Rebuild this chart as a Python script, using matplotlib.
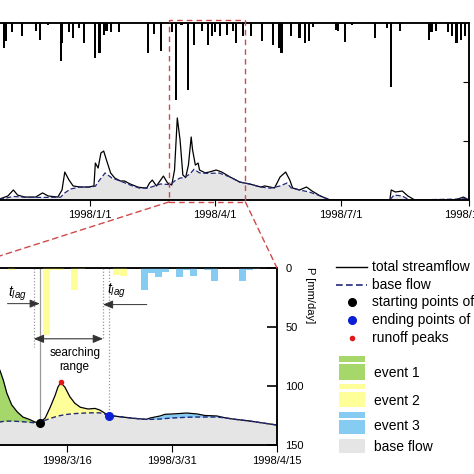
import numpy as np
import matplotlib
matplotlib.use("Agg")
import matplotlib.pyplot as plt
from matplotlib.patches import Rectangle, ConnectionPatch
from matplotlib.lines import Line2D

plt.rcParams['font.family'] = ['Liberation Sans', 'DejaVu Sans']
plt.rcParams['mathtext.fontset'] = 'custom'
plt.rcParams['mathtext.it'] = 'Liberation Sans:italic'
plt.rcParams['mathtext.rm'] = 'Liberation Sans'

# ---------------- whole year, days since 1997-10-01 ----------------
year_start = np.datetime64('1997-10-01')
flow_day = [0, 15, 27, 33, 37, 40, 45, 53, 58, 62, 69, 72, 74, 77, 80, 85, 91, 95, 96, 98,
            100, 102, 104, 107, 110, 114, 117, 121, 127, 133, 135, 137, 140, 143, 145, 148, 151, 153, 155, 157,
            159, 161, 163, 165, 166, 168, 170, 171, 175, 178, 183, 187, 193, 200, 207, 215, 218, 225, 229, 233,
            236, 238, 243, 248, 252, 258, 265, 308, 309, 312, 317, 321, 326, 355, 361, 365]
flow_total = [0.1, 0.2, 0.08, 0.34, 0.85, 0.42, 0.25, 0.25, 0.6, 0.34, 0.25, 0.85, 2.37, 1.7, 1.19, 1.1, 1.1, 1.19, 3.13, 2.71,
              3.98, 4.15, 3.39, 2.29, 1.86, 1.61, 1.61, 1.36, 1.08, 1.0, 1.44, 1.69, 1.19, 1.69, 2.03, 1.44, 1.27, 2.54, 6.95, 5.08,
              2.12, 1.9, 2.96, 5.34, 4.24, 2.96, 3.13, 2.54, 2.3, 2.37, 2.54, 2.37, 1.95, 1.52, 1.36, 1.1, 1.19, 1.02, 1.95, 2.37,
              1.69, 1.02, 0.85, 1.1, 0.76, 0.34, 0.0, 0.0, 0.85, 0.68, 0.76, 0.34, 0.0, 0.0, 0.25, 0.0]
base_day = [0, 27, 37, 48, 60, 71, 74, 78, 85, 92, 96, 99, 103, 108, 114, 121, 128, 135, 143, 150,
            153, 157, 160, 164, 167, 171, 178, 185, 193, 200, 207, 215, 222, 229, 234, 237, 243, 250, 258, 265,
            308, 311, 317, 322, 358, 361, 365]
base_flow = [0.1, 0.05, 0.3, 0.22, 0.22, 0.24, 0.6, 0.93, 1.1, 1.1, 1.17, 1.69, 2.29, 1.86, 1.61, 1.27, 1.0, 1.05, 1.36, 1.3,
             1.61, 1.86, 1.9, 2.2, 2.6, 2.3, 2.25, 2.29, 1.95, 1.52, 1.36, 1.1, 1.0, 1.19, 1.44, 1.02, 0.85, 0.68, 0.34, 0.0,
             0.0, 0.42, 0.34, 0.0, 0.08, 0.17, 0.0]
rain_day = [30, 32, 36, 43, 53, 56, 62, 71, 72, 77, 80, 84, 88, 96, 99, 102, 104, 107, 113, 134,
            138, 143, 151, 154, 158, 163, 167, 173, 177, 180, 182, 186, 191, 195, 197, 202, 208, 216, 224, 228,
            230, 237, 243, 247, 250, 253, 269, 271, 276, 281, 297, 306, 309, 315, 336, 338, 341, 350, 353, 356,
            359, 362]
rain_mm = [21, 15, 8, 11, 7, 14, 2, 32, 17, 8, 13, 4, 17, 30, 25, 10, 7, 8, 8, 25,
           9, 24, 8, 65, 2, 57, 19, 7, 19, 11, 8, 11, 10, 7, 17, 11, 11, 15, 19, 21,
           25, 11, 13, 17, 15, 3, 6, 7, 16, 2, 13, 4, 54, 7, 14, 8, 7, 8, 11, 17,
           14, 11]
top_tick_dates = ['1998-01-01', '1998-04-01', '1998-07-01', '1998-10-01']
top_tick_labels = ['1998/1/1', '1998/4/1', '1998/7/1', '1998/10/1']
zoom_box = ['1998-02-27', '1998-04-23']

# ---------------- zoom window, days since 1998-03-01 ----------------
zoom_start = np.datetime64('1998-03-01')
z_day = [0, 1.5, 3, 4, 4.6, 5.4, 5.9, 6.4, 7.1, 7.9, 8.7, 9.7, 10.4, 11.1, 11.9, 12.6, 13.3, 13.7, 14.1, 14.7,
         15.4, 16.1, 16.9, 18.0, 19.0, 19.7, 20.4, 21.0, 22.5, 24.4, 26.3, 26.9, 28.3, 29.0, 30.1, 32.1, 33.6, 34.7, 36.4, 37.6,
         38.7, 41.1, 45]
z_total = [1.3, 1.6, 3.0, 6.5, 7.0, 6.35, 5.5, 4.4, 3.4, 2.8, 2.37, 2.15, 1.95, 1.86, 2.3, 3.2, 4.2, 4.9, 5.3, 4.9,
           4.1, 3.55, 3.2, 3.05, 3.1, 2.96, 2.7, 2.5, 2.4, 2.27, 2.17, 2.29, 2.46, 2.6, 2.63, 2.71, 2.63, 2.5, 2.46, 2.3,
           2.2, 2.03, 1.69]
z_base = [1.3, 1.5, 1.65, 1.8, 1.85, 1.95, 2.0, 2.02, 2.03, 2.0, 1.97, 1.92, 1.88, 1.86, 2.1, 2.25, 2.38, 2.45, 2.5, 2.57,
          2.62, 2.66, 2.69, 2.72, 2.73, 2.72, 2.62, 2.5, 2.4, 2.27, 2.17, 2.17, 2.2, 2.24, 2.29, 2.35, 2.37, 2.37, 2.37, 2.3,
          2.2, 2.03, 1.69]
z_rain_day = [0, 3, 7, 12, 13, 14, 16, 17, 22, 23, 26, 27, 28, 29, 31, 32, 33, 35, 36, 40, 41, 42]
z_rain = [8, 65, 2, 57, 2, 2, 19, 1, 6, 7, 19, 4, 8, 3, 8, 2, 7, 2, 11, 11, 2, 1]
z_rain_event = [1, 1, 2, 2, 2, 2, 2, 2, 2, 2, 3, 3, 3, 3, 3, 3, 3, 3, 3, 3, 3, 3]
event_start = [0, 11.1, 26.3]
event_end = [11.1, 21.0, 37.6]
t_lag = 0.85
bot_tick_dates = ['1998-03-16', '1998-03-31', '1998-04-15']
bot_tick_labels = ['1998/3/16', '1998/3/31', '1998/4/15']

gray = '#e5e5e5'
navy = '#22287a'
red = '#cf4a4a'
ev_colors = {1: '#a6d76b', 2: '#ffff99', 3: '#86cbf2'}

W = 474.0
fig = plt.figure(figsize=(4.74, 4.74), dpi=100)
ax_top = fig.add_axes([-38 / W, 1 - 200 / W, 507 / W, 177 / W])
ax_bot = fig.add_axes([-38 / W, 1 - 445 / W, 315 / W, 177 / W])

# ---- top panel ----
ax_top.fill_between(base_day, 0, base_flow, color=gray, lw=0)
ax_top.plot(flow_day, flow_total, color='black', lw=0.9)
ax_top.plot(base_day, base_flow, color=navy, lw=0.9, dashes=(4, 2))
ax_top.set_xlim(0, 365)
ax_top.set_ylim(0, 15)
top_ticks = (np.array(top_tick_dates, dtype='datetime64[D]') - year_start).astype(int)
ax_top.set_xticks(top_ticks)
ax_top.set_xticklabels(top_tick_labels)
ax_top.tick_params(axis='x', direction='out', length=4, labelsize=8, pad=3)
ax_top.tick_params(axis='y', left=False, labelleft=False)

ax_top_p = ax_top.twinx()
ax_top_p.bar(rain_day, rain_mm, width=1.5, color='black', lw=0)
ax_top_p.set_ylim(150, 0)
ax_top_p.set_yticks([50, 100])
ax_top_p.tick_params(axis='y', direction='in', length=4, labelright=False)

box = (np.array(zoom_box, dtype='datetime64[D]') - year_start).astype(int)
rect = Rectangle((box[0], -0.011), box[1] - box[0], 1.028, transform=ax_top_p.get_xaxis_transform(),
                 fill=False, ec=red, lw=1, ls=(0, (4, 3)), clip_on=False, zorder=5)
ax_top_p.add_patch(rect)
for xa, xb in [(box[0], 0), (box[1], 1)]:
    con = ConnectionPatch(xyA=(xa, -0.011), coordsA=ax_top_p.get_xaxis_transform(),
                          xyB=(xb, 1), coordsB=ax_bot.transAxes,
                          color=red, lw=1, ls=(0, (4, 3)))
    fig.add_artist(con)

# ---- bottom panel ----
z_day = np.array(z_day)
z_total = np.array(z_total)
z_base = np.array(z_base)
ax_bot.fill_between(z_day, 0, z_base, color=gray, lw=0)
for k, (s, e) in enumerate(zip(event_start, event_end)):
    m = (z_day >= s) & (z_day <= e)
    ax_bot.fill_between(z_day, z_base, z_total, where=m, color=ev_colors[k + 1], lw=0)
ax_bot.plot(z_day, z_total, color='black', lw=0.9)
ax_bot.plot(z_day, z_base, color=navy, lw=1.0, dashes=(3.5, 2))
ax_bot.set_xlim(0, 45)
ax_bot.set_ylim(0, 15)

s2, e2 = event_start[1], event_end[1]
start_q = np.interp(s2, z_day, z_total)
end_q = np.interp(e2, z_day, z_total)
m2 = (z_day >= s2) & (z_day <= e2)
pk = np.argmax(np.where(m2, z_total, -1))
ax_bot.vlines(s2, start_q, 15, colors='#9a9a9a', lw=0.9)
ax_bot.vlines(e2, end_q, 15, colors='#9a9a9a', lw=0.9, linestyles=(0, (1, 1.5)))
ax_bot.plot(s2, start_q, 'o', color='black', ms=5.5, zorder=6)
ax_bot.plot(e2, end_q, 'o', color='#0a1fd6', ms=5.5, zorder=6)
ax_bot.plot(z_day[pk], z_total[pk], 'o', color='#e01818', ms=3, zorder=6)

bot_ticks = (np.array(bot_tick_dates, dtype='datetime64[D]') - zoom_start).astype(int)
ax_bot.set_xticks(bot_ticks)
ax_bot.set_xticklabels(bot_tick_labels)
ax_bot.tick_params(axis='x', direction='out', length=5, labelsize=8, pad=3)
ax_bot.tick_params(axis='y', left=False, labelleft=False)

ax_bot_p = ax_bot.twinx()
ax_bot_p.bar(z_rain_day, z_rain, width=1.0, lw=0,
             color=[ev_colors[k] for k in z_rain_event])
ax_bot_p.set_ylim(150, 0)
ax_bot_p.set_yticks([0, 50, 100, 150])
ax_bot_p.tick_params(axis='y', direction='in', length=7, width=1.2, labelsize=8, pad=6)
ax_bot_p.text(1.105, 0.847, 'P [mm/day]', transform=ax_bot_p.transAxes, rotation=270,
              ha='center', va='center', fontsize=8)

ax_bot_p.vlines(s2 - t_lag, 0, 67, colors='#9a9a9a', lw=0.9, linestyles=(0, (1, 1.5)))
ax_bot_p.vlines(e2 - t_lag, 0, 61, colors='#9a9a9a', lw=0.9, linestyles=(0, (1, 1.5)))
head = '-|>,head_length=0.6,head_width=0.25'
ax_bot_p.annotate('', xy=(s2, 30.2), xytext=(6.5, 30.2),
                  arrowprops=dict(arrowstyle=head, color='#333333', lw=0.7, mutation_scale=10,
                                  shrinkA=0, shrinkB=0))
ax_bot_p.annotate('', xy=(e2 - t_lag, 31), xytext=(26.4, 31),
                  arrowprops=dict(arrowstyle=head, color='#333333', lw=0.7, mutation_scale=10,
                                  shrinkA=0, shrinkB=0))
ax_bot_p.annotate('', xy=(e2 - t_lag, 60), xytext=(s2 - t_lag, 60),
                  arrowprops=dict(arrowstyle='<|-|>,head_length=0.6,head_width=0.25', color='#333333',
                                  lw=0.8, mutation_scale=10, shrinkA=0, shrinkB=0))
ax_bot_p.text(7.86, 22, r'$t_{lag}$', ha='center', va='center', fontsize=10)
ax_bot_p.text(22.1, 19.5, r'$t_{lag}$', ha='center', va='center', fontsize=10)
ax_bot_p.text(16.1, 78, 'searching\nrange', ha='center', va='center', fontsize=8.5, linespacing=1.3)

for a in (ax_top, ax_top_p, ax_bot, ax_bot_p):
    for sp in a.spines.values():
        sp.set_linewidth(1.1)

# ---- legend, drawn in figure pixels ----
lax = fig.add_axes([0, 0, 1, 1], zorder=10)
lax.set_xlim(0, W)
lax.set_ylim(W, 0)
lax.axis('off')
lax.add_line(Line2D([336, 367], [267, 267], color='black', lw=1))
lax.add_line(Line2D([336, 367], [285, 285], color=navy, lw=1.2, dashes=(4, 2)))
lax.plot(352, 302, 'o', color='black', ms=5.5)
lax.plot(352, 320, 'o', color='#0a1fd6', ms=5.5)
lax.plot(352, 338, 'o', color='#e01818', ms=3)
rows = [('total streamflow', 267), ('base flow', 285), ('starting points of', 302),
        ('ending points of', 320), ('runoff peaks', 338)]
for label, yy in rows:
    lax.text(372, yy, label, va='center', ha='left', fontsize=10)
patches = [(ev_colors[1], 356, 362, 364, 380, 'event 1', 373),
           (ev_colors[2], 384, 389, 392, 407, 'event 2', 401),
           (ev_colors[3], 412, 418, 420, 434, 'event 3', 426)]
for c, s0, s1, b0, b1, label, ty in patches:
    lax.add_patch(Rectangle((339, s0), 26, s1 - s0, color=c, lw=0))
    lax.add_patch(Rectangle((339, b0), 26, b1 - b0, color=c, lw=0))
    lax.text(374, ty, label, va='center', ha='left', fontsize=10)
lax.add_patch(Rectangle((339, 439), 26, 14, color=gray, lw=0))
lax.text(374, 447, 'base flow', va='center', ha='left', fontsize=10)

fig.savefig('out.png', dpi=100)
